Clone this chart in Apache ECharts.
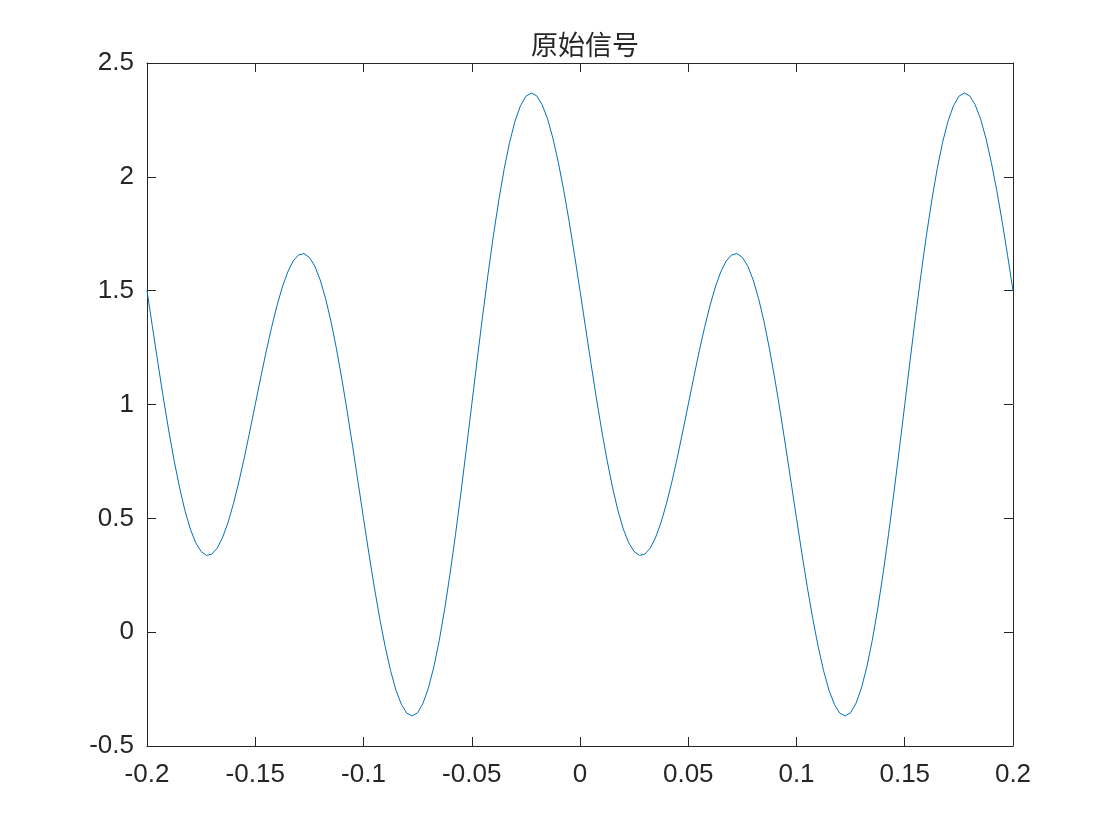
<!DOCTYPE html>
<html>
<head>
<meta charset="utf-8">
<script src="https://cdn.jsdelivr.net/npm/echarts@6/dist/echarts.min.js"></script>
<style>
html,body{margin:0;padding:0;background:#fff;}
#chart{width:1120px;height:840px;}
</style>
</head>
<body>
<div id="chart"></div>
<script>
// Signal values, t from -0.2 to 0.2, step 0.0025
const tStart = -0.2;
const tStep = 0.0025;
const signalValues = [
  1.5,1.342,1.185,1.032,0.888,0.755,0.637,0.535,0.453,0.393,
  0.354,0.337,0.343,0.370,0.418,0.484,0.567,0.663,0.769,0.883,
  1.0,1.117,1.231,1.337,1.433,1.516,1.582,1.630,1.657,1.663,
  1.646,1.608,1.547,1.465,1.364,1.245,1.112,0.968,0.815,0.658,
  0.5,0.345,0.197,0.060,-0.063,-0.169,-0.255,-0.317,-0.356,-0.368,
  -0.354,-0.312,-0.245,-0.152,-0.036,0.102,0.258,0.429,0.613,0.804,
  1.0,1.196,1.387,1.571,1.742,1.898,2.036,2.152,2.245,2.312,
  2.354,2.368,2.356,2.317,2.255,2.169,2.063,1.940,1.803,1.655,
  1.5,1.342,1.185,1.032,0.888,0.755,0.637,0.535,0.453,0.393,
  0.354,0.337,0.343,0.370,0.418,0.484,0.567,0.663,0.769,0.883,
  1.0,1.117,1.231,1.337,1.433,1.516,1.582,1.630,1.657,1.663,
  1.646,1.608,1.547,1.465,1.364,1.245,1.112,0.968,0.815,0.658,
  0.5,0.345,0.197,0.060,-0.063,-0.169,-0.255,-0.317,-0.356,-0.368,
  -0.354,-0.312,-0.245,-0.152,-0.036,0.102,0.258,0.429,0.613,0.804,
  1.0,1.196,1.387,1.571,1.742,1.898,2.036,2.152,2.245,2.312,
  2.354,2.368,2.356,2.317,2.255,2.169,2.063,1.940,1.803,1.655,
  1.5];
const xTicks = [-0.2,-0.15,-0.1,-0.05,0,0.05,0.1,0.15,0.2];
const yTicks = [-0.5,0,0.5,1,1.5,2,2.5];
const titleText = '原始信号';

const data = signalValues.map((v,i)=>[+(tStart + i*tStep).toFixed(5), v]);

function fmt(v){ return String(+v.toFixed(4)); }

const axisColor = '#262626';
const labelFont = {color:'#262626', fontSize:26, fontFamily:'"Liberation Sans", Arial, sans-serif'};

const chart = echarts.init(document.getElementById('chart'));
chart.setOption({
  animation:false,
  backgroundColor:'#fff',
  title:{
    text:titleText, left:580, top:26, textAlign:'center',
    textStyle:{fontSize:27, fontWeight:'normal', color:'#262626', fontFamily:'"Noto Sans CJK SC", sans-serif'}
  },
  grid:{left:147, right:107, top:63, bottom:94, containLabel:false, show:false},
  xAxis:[{
    type:'value', min:xTicks[0], max:xTicks[xTicks.length-1], interval:0.05,
    position:'bottom',
    axisLine:{show:true, onZero:false, lineStyle:{color:axisColor, width:1}},
    axisTick:{show:true, inside:true, length:9, lineStyle:{color:axisColor}},
    axisLabel:Object.assign({margin:16, formatter:fmt}, labelFont),
    splitLine:{show:false}
  },{
    type:'value', min:xTicks[0], max:xTicks[xTicks.length-1], interval:0.05,
    position:'top',
    axisLine:{show:true, onZero:false, lineStyle:{color:axisColor, width:1}},
    axisTick:{show:true, inside:true, length:9, lineStyle:{color:axisColor}},
    axisLabel:{show:false}, splitLine:{show:false}
  }],
  yAxis:[{
    type:'value', min:yTicks[0], max:yTicks[yTicks.length-1], interval:0.5,
    position:'left',
    axisLine:{show:true, onZero:false, lineStyle:{color:axisColor, width:1}},
    axisTick:{show:true, inside:true, length:9, lineStyle:{color:axisColor}},
    axisLabel:Object.assign({margin:13, formatter:fmt}, labelFont),
    splitLine:{show:false}
  },{
    type:'value', min:yTicks[0], max:yTicks[yTicks.length-1], interval:0.5,
    position:'right',
    axisLine:{show:true, onZero:false, lineStyle:{color:axisColor, width:1}},
    axisTick:{show:true, inside:true, length:9, lineStyle:{color:axisColor}},
    axisLabel:{show:false}, splitLine:{show:false}
  }],
  series:[{
    type:'line', data:data, xAxisIndex:0, yAxisIndex:0,
    smooth:false, showSymbol:false, symbol:'none',
    lineStyle:{color:'#0072BD', width:1}
  }]
});
</script>
</body>
</html>
